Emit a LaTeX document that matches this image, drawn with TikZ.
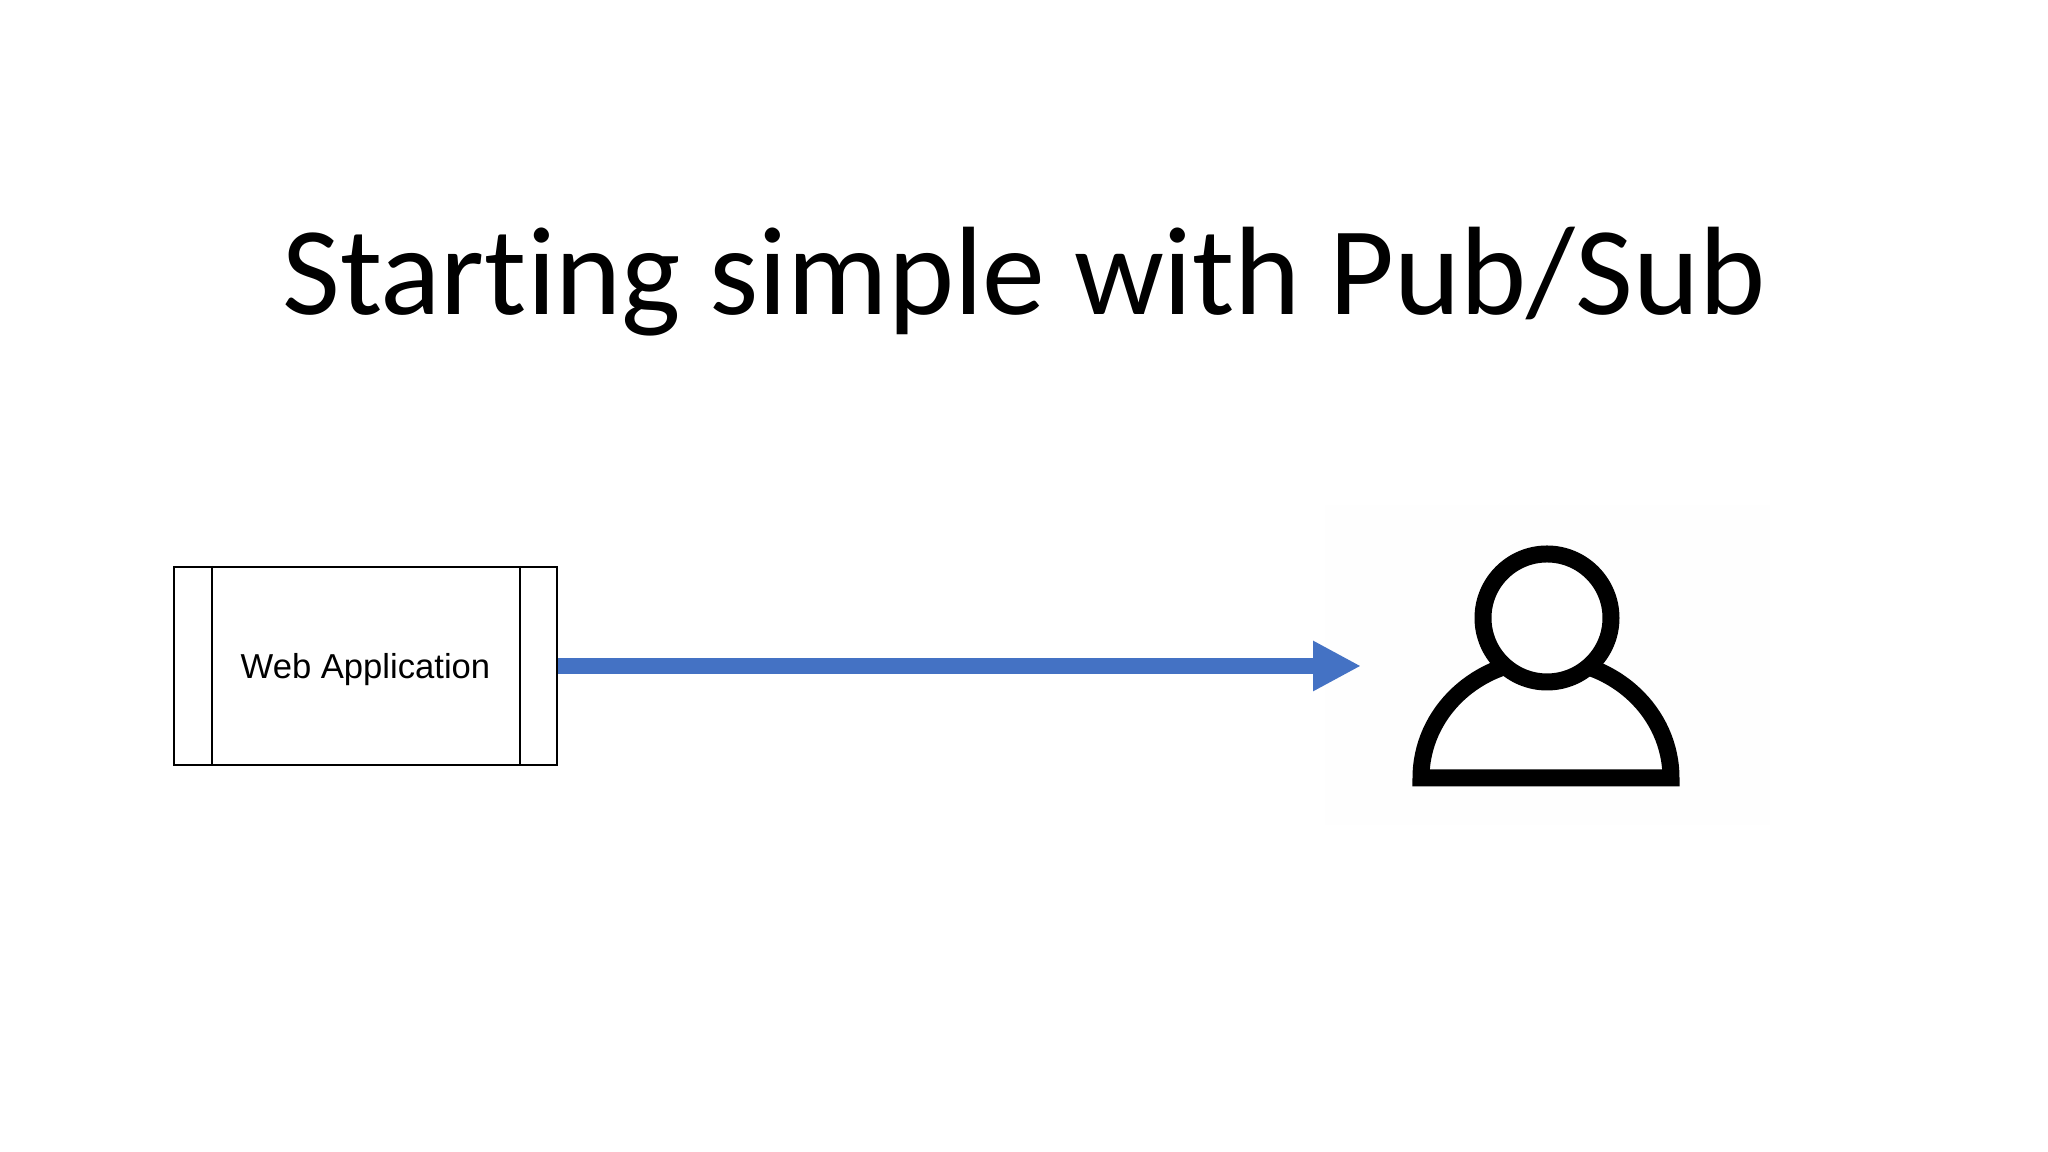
\documentclass[tikz,border=0pt]{standalone}
\usepackage{fontspec}
\setmainfont[Ligatures=NoCommon]{Carlito}
\newfontfamily\appfont{Liberation Sans}
\usetikzlibrary{arrows.meta}
\definecolor{flowblue}{HTML}{4472C4}
\tikzset{
  appbox/.style={draw,line width=0.6pt,minimum width=3.83cm,minimum height=1.98cm,
    text depth=0pt,font=\appfont\fontsize{9.85pt}{12pt}\selectfont},
  usersym/.style={draw=black,line width=1.7mm,fill=white}
}
\begin{document}
\begin{tikzpicture}[>={Triangle[length=4.8mm,width=4.7mm]}]
  \useasboundingbox (0,0) rectangle (20.48,11.52);
  \node[anchor=base,font=\fontsize{35.8pt}{42pt}\selectfont] (title) at (10.24,8.37)
    {Starting simple with Pub/Sub};
  \node[appbox] (app) at (3.655,4.86) {Web Application};
  \draw[line width=0.6pt] ([xshift=3.9mm]app.north west) -- ([xshift=3.9mm]app.south west);
  \draw[line width=0.6pt] ([xshift=-3.8mm]app.north east) -- ([xshift=-3.8mm]app.south east);
  % user picture
  \node[fill=black!0.4,minimum width=4.45cm,minimum height=3.2cm] (userbg) at (15.47,4.87) {};
  \draw[usersym,miter limit=10] (14.21,3.74) arc[start angle=180,end angle=0,x radius=1.25,y radius=1.18] -- cycle;
  \node[usersym,circle,inner sep=0pt,minimum size=1.28cm] (head) at (15.47,5.34) {};
  \coordinate (tip) at (13.61,4.86);
  \draw[->,flowblue,line width=1.6mm] (app.east) -- (tip);
\end{tikzpicture}
\end{document}
